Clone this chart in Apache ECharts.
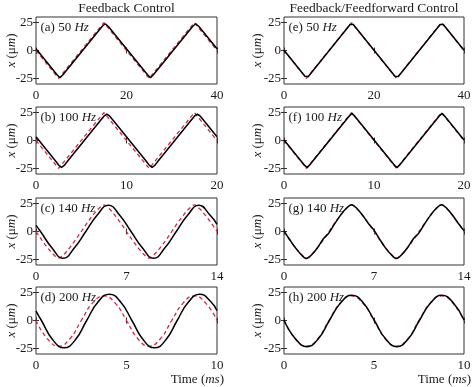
<!DOCTYPE html>
<html><head><meta charset="utf-8">
<script src="https://cdn.jsdelivr.net/npm/echarts@6/dist/echarts.min.js"></script>
<style>html,body{margin:0;padding:0;background:#fff}#c{width:474px;height:387px}</style>
</head><body><div id="c"></div>
<script>
// ---- data (time in ms, displacement in µm) ----
const ref50 = [[0,0],[5,-25],[15,25],[25,-25],[35,25],[40,0]];
const fb50 = [[0,1.5],[4.6,-21.5],[5.3,-24.5],[6.0,-21.5],[14.6,21.5],[15.3,24],[16.0,21.5],[24.6,-21.5],[25.3,-24.5],[26.0,-21.5],[34.6,21.5],[35.3,24],[36.0,21.5],[40,1.5]];
const ff50 = [[0,0.3],[4.7,-23.2],[5.05,-24.6],[5.4,-23.2],[14.7,23.2],[15.05,24.4],[15.4,23.2],[24.7,-23.2],[25.05,-24.6],[25.4,-23.2],[34.7,23.2],[35.05,24.4],[35.4,23.2],[40,0.3]];
const ref100 = [[0,0],[2.5,-25],[7.5,25],[12.5,-25],[17.5,25],[20,0]];
const fb100 = [[0,3.3],[2.23,-19],[2.53,-22.3],[2.83,-24],[3.13,-22.3],[3.43,-19],[7.23,19],[7.53,22],[7.83,23.5],[8.13,22],[8.43,19],[12.23,-19],[12.53,-22.3],[12.83,-24],[13.13,-22.3],[13.43,-19],[17.23,19],[17.53,22],[17.83,23.5],[18.13,22],[18.43,19],[20,3.3]];
const ff100 = [[0,0.5],[2.05,-20],[2.3,-22.3],[2.55,-24.3],[2.8,-22.3],[3.05,-20],[7.05,20],[7.3,22.3],[7.55,24.3],[7.8,22.3],[8.05,20],[12.05,-20],[12.3,-22.3],[12.55,-24.3],[12.8,-22.3],[13.05,-20],[17.05,20],[17.3,22.3],[17.55,24.3],[17.8,22.3],[18.05,20],[20,0.5]];
const t140 = [0,0.4375,0.875,1.3125,1.75,2.1875,2.625,3.0625,3.5,3.9375,4.375,4.8125,5.25,5.6875,6.125,6.5625,7,7.4375,7.875,8.3125,8.75,9.1875,9.625,10.0625,10.5,10.9375,11.375,11.8125,12.25,12.6875,13.125,13.5625,14];
const ref140 = [0,-7.4,-14.2,-20.1,-23.8,-20.1,-14.2,-7.4,0,7.4,14.2,20.1,23.8,20.1,14.2,7.4,0,-7.4,-14.2,-20.1,-23.8,-20.1,-14.2,-7.4,0,7.4,14.2,20.1,23.8,20.1,14.2,7.4,0];
const ff140 = [0.3,-7.2,-14.4,-20.4,-24.2,-20.4,-14.2,-6.5,-1.2,6.8,14.2,20.3,24,20.4,14.3,7.2,1.2,-6.8,-14.4,-20.4,-24.2,-20.4,-14.2,-6.5,-1.2,6.8,14.2,20.3,24,20.4,14.3,7.2,0.8];
const fb140 = [[0,5.5],[0.35,0],[1.225,-14.5],[2.1,-24],[2.975,-14.5],[3.85,0],[4.725,14.5],[5.6,23.5],[6.475,14.5],[7.35,0],[8.225,-14.5],[9.1,-24],[9.975,-14.5],[10.85,0],[11.725,14.5],[12.6,23.5],[13.475,14.5],[14,6.5]];
const ref200 = [[0,0],[0.625,-16.3],[1.25,-23],[1.875,-16.3],[2.5,0],[3.125,15.6],[3.75,22],[4.375,15.6],[5,0],[5.625,-16.3],[6.25,-23],[6.875,-16.3],[7.5,0],[8.125,15.6],[8.75,22],[9.375,15.6],[10,0]];
const fb200 = [[0,8.5],[0.3,0],[0.925,-17.3],[1.55,-24.5],[2.175,-17.3],[2.8,0],[3.425,16.6],[4.05,23.5],[4.675,16.6],[5.3,0],[5.925,-17.3],[6.55,-24.5],[7.175,-17.3],[7.8,0],[8.425,16.6],[9.05,23.5],[9.675,16.6],[10,8.8]];
const ff200 = [[0,0.4],[0.64,-16.5],[1.27,-23.4],[1.9,-16.5],[2.52,0],[3.15,15.9],[3.77,22.6],[4.4,15.9],[5.02,0],[5.65,-16.5],[6.27,-23.4],[6.9,-16.5],[7.52,0],[8.15,15.9],[8.77,22.6],[9.4,15.9],[10,0.4]];

const freqs = ['50','100','140','200'];
const xMax = [40,20,14,10];
const xStep = [20,10,7,5];
const yTicks = [-25,0,25];
const lettersLeft = ['a','b','c','d'];
const lettersRight = ['e','f','g','h'];
const titles = ['Feedback Control','Feedback/Feedforward Control'];

const zip = (ts, vs) => ts.map((t,i)=>[t,vs[i]]);
const refs = [ref50,ref100,zip(t140,ref140),ref200];
const fbs = [fb50,fb100,fb140,fb200];
const ffs = [ff50,ff100,zip(t140,ff140),ff200];
// smoothing per row: [reference, feedback, feedforward]
const smoothRef = [false,false,0.35,0.5];
const smoothFb = [false,false,0.5,0.5];
const smoothFf = [false,false,0.35,0.5];

// ---- layout ----
const colLeft=[36,284], colWidth=[181,180], rowTop=[17,107,198,287], rowH=67;
const AX='#333', TXT='#1a1a1a', RED='#e3223c';
const FONT='"Liberation Serif","Times New Roman",serif';

const grids=[], xAxes=[], yAxes=[], series=[], graphics=[];
const rich = {
  n:{fontFamily:FONT,fontSize:13,fill:TXT},
  i:{fontFamily:FONT,fontSize:13,fontStyle:'italic',fill:TXT}
};
for (let c=0;c<2;c++){
  for (let r=0;r<4;r++){
    const gi=grids.length;
    const L=colLeft[c], T=rowTop[r], W=colWidth[c], H=rowH;
    grids.push({left:L,top:T,width:W,height:H,show:true,borderColor:AX,borderWidth:1,backgroundColor:'transparent'});
    const xc={type:'value',gridIndex:gi,min:0,max:xMax[r],interval:xStep[r],splitLine:{show:false},
      axisLine:{show:false},axisTick:{show:true,inside:true,length:3,lineStyle:{color:AX}}};
    xAxes.push(Object.assign({},xc,{position:'bottom',axisLabel:{show:true,fontFamily:FONT,fontSize:13,color:TXT,margin:5}}));
    xAxes.push(Object.assign({},xc,{position:'top',axisLabel:{show:false}}));
    const yc={type:'value',gridIndex:gi,min:-30,max:30,splitLine:{show:false},axisLine:{show:false},
      axisTick:{show:true,inside:true,length:3,customValues:yTicks,lineStyle:{color:AX}}};
    yAxes.push(Object.assign({},yc,{position:'left',axisLabel:{show:true,customValues:yTicks,fontFamily:FONT,fontSize:13,color:TXT,margin:3}}));
    yAxes.push(Object.assign({},yc,{position:'right',axisLabel:{show:false,customValues:yTicks}}));
    series.push({type:'line',xAxisIndex:2*gi,yAxisIndex:2*gi,data:refs[r],symbol:'none',showSymbol:false,
      smooth:smoothRef[r],lineStyle:{color:RED,width:1.3,type:[4,3]},z:2,silent:true,animation:false});
    series.push({type:'line',xAxisIndex:2*gi,yAxisIndex:2*gi,data:(c===0?fbs:ffs)[r],symbol:'none',showSymbol:false,
      smooth:(c===0?smoothFb:smoothFf)[r],lineStyle:{color:'#000',width:1.5},z:3,silent:true,animation:false});
    const letter=(c===0?lettersLeft:lettersRight)[r];
    graphics.push({type:'text',x:L+4.5,y:T+10.5,z:10,style:{text:'{n|('+letter+') '+freqs[r]+' }{i|Hz}',rich:rich,
      fontFamily:FONT,fontSize:13,fill:TXT,align:'left',verticalAlign:'middle',textAlign:'left',textVerticalAlign:'middle'}});
    graphics.push({type:'text',x:(c===0?12:258),y:T+H/2,rotation:Math.PI/2,z:10,style:{text:'{i|x} ({n|\u03bc}{i|m})',rich:rich,
      fontFamily:FONT,fontSize:13,fill:TXT,align:'center',verticalAlign:'middle',textAlign:'center',textVerticalAlign:'middle'}});
    if (r===3){
      graphics.push({type:'text',x:L+W+7,y:380,z:10,style:{text:'{n|Time (}{i|ms}{n|)}',rich:rich,
        fontFamily:FONT,fontSize:13,fill:TXT,align:'right',verticalAlign:'middle',textAlign:'right',textVerticalAlign:'middle'}});
    }
  }
  graphics.push({type:'text',x:colLeft[c]+colWidth[c]/2,y:8,z:10,style:{text:titles[c],fontFamily:FONT,fontSize:13.5,fill:TXT,
    align:'center',verticalAlign:'middle',textAlign:'center',textVerticalAlign:'middle'}});
}

const chart=echarts.init(document.getElementById('c'),null,{renderer:'canvas'});
chart.setOption({animation:false,backgroundColor:'#fff',grid:grids,xAxis:xAxes,yAxis:yAxes,series:series,graphic:graphics});
</script></body></html>
